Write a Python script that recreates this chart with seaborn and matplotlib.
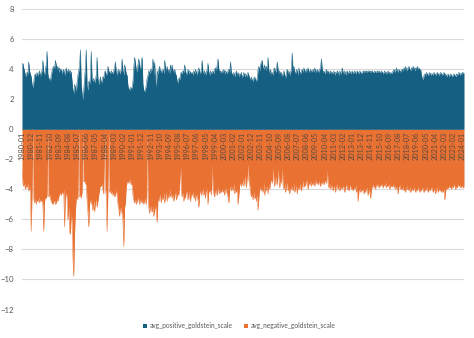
import matplotlib
matplotlib.use("Agg")
import matplotlib.pyplot as plt
from matplotlib.patches import Patch
import numpy as np
import pandas as pd
import seaborn as sns

# Monthly average Goldstein scores, January 1980 to March 2024
pos_1980s = [
    4.3, 4.4, 4.1, 3.9, 3.6, 3.5, 3.8, 3.7, 4.5, 3.9, 3.7, 3.5,
    3.0, 2.8, 3.1, 3.6, 3.7, 3.5, 3.8, 3.6, 3.7, 3.9, 3.5, 3.8,
    3.9, 4.6, 3.8, 3.6, 4.0, 4.3, 5.2, 3.7, 3.3, 3.4, 3.2, 3.6,
    3.9, 4.1, 4.2, 4.0, 4.6, 4.3, 4.0, 4.2, 3.8, 4.1, 3.9, 4.0,
    3.7, 3.9, 4.0, 3.6, 3.8, 4.1, 3.8, 3.9, 4.0, 3.7, 3.9, 3.8,
    3.2, 2.6, 2.4, 3.0, 2.8, 2.5, 3.1, 3.6, 3.9, 4.2, 5.3, 3.0,
    2.4, 2.0, 2.6, 3.4, 4.1, 5.3, 2.9, 2.6, 3.2, 3.0, 3.5, 5.2,
    3.3, 3.2, 3.4, 3.1, 3.3, 3.6, 4.8, 3.4, 3.0, 3.2, 3.5, 3.1,
    3.2, 3.5, 3.4, 3.8, 3.9, 3.6, 3.7, 4.2, 3.9, 3.8, 3.7, 3.9,
    3.8, 3.7, 3.9, 4.1, 4.5, 3.8, 3.6, 3.9, 4.0, 3.7, 3.8, 4.0,
]
pos_1990s = [
    4.7, 3.9, 3.6, 4.3, 4.0, 3.7, 3.6, 2.9, 2.7, 2.6, 2.8, 2.7,
    2.8, 3.2, 4.1, 4.8, 4.4, 4.0, 3.8, 4.3, 4.7, 4.2, 3.9, 4.5,
    4.8, 3.0, 2.6, 2.5, 2.7, 2.9, 3.4, 3.6, 3.9, 3.7, 4.0, 3.8,
    4.1, 4.7, 3.6, 4.5, 3.2, 2.8, 3.9, 3.7, 4.0, 4.2, 3.8, 3.9,
    3.8, 4.0, 3.7, 4.6, 4.1, 3.9, 4.2, 3.8, 4.0, 3.7, 4.3, 3.9,
    4.3, 3.9, 3.8, 4.0, 3.7, 3.6, 3.2, 3.1, 3.4, 3.3, 3.7, 3.8,
    3.7, 3.9, 3.8, 4.3, 3.9, 3.6, 3.8, 4.0, 3.7, 3.9, 3.8, 3.7,
    3.8, 3.6, 3.9, 3.7, 4.0, 3.8, 3.6, 3.9, 4.1, 3.8, 3.7, 4.0,
    4.6, 3.8, 3.7, 3.9, 3.6, 3.8, 4.0, 4.4, 3.8, 3.6, 3.9, 3.7,
    3.8, 3.9, 3.7, 4.0, 4.1, 3.9, 4.3, 4.7, 4.0, 3.8, 3.9, 3.7,
]
pos_2000s = [
    3.9, 3.8, 4.0, 3.7, 3.9, 3.8, 3.7, 3.9, 4.0, 3.8, 4.5, 3.8,
    3.7, 3.6, 3.8, 3.5, 3.7, 3.9, 3.6, 3.8, 3.5, 3.7, 3.6, 3.8,
    3.4, 3.6, 3.8, 3.5, 3.7, 3.6, 3.5, 3.8, 3.6, 3.4, 3.3, 3.5,
    3.3, 3.2, 3.4, 3.5, 3.3, 3.2, 3.4, 4.0, 4.2, 3.9, 4.3, 4.5,
    4.6, 4.1, 4.0, 4.3, 3.9, 4.2, 4.0, 4.8, 3.9, 3.7, 4.0, 3.6,
    3.8, 3.6, 4.0, 4.1, 3.8, 3.9, 4.5, 4.0, 3.7, 3.9, 3.6, 3.8,
    3.5, 3.7, 3.9, 3.6, 3.4, 3.8, 4.0, 3.7, 3.9, 3.6, 3.8, 4.0,
    5.1, 3.9, 4.2, 3.8, 3.7, 4.0, 3.9, 3.6, 4.1, 3.8, 3.7, 3.9,
    4.0, 3.8, 4.1, 3.9, 3.8, 4.0, 3.9, 4.1, 3.8, 3.9, 4.0, 3.8,
    3.9, 4.0, 3.8, 4.1, 3.9, 3.8, 4.0, 3.9, 3.8, 4.0, 4.1, 4.7,
]
pos_2010s = [
    4.0, 3.8, 3.9, 3.7, 3.8, 4.0, 3.8, 3.9, 3.7, 3.8, 3.9, 3.7,
    3.8, 3.7, 3.9, 3.6, 3.8, 3.7, 3.9, 3.8, 3.6, 3.9, 3.7, 3.8,
    4.1, 3.8, 3.7, 3.9, 3.6, 3.8, 3.9, 3.7, 3.8, 3.9, 3.7, 3.8,
    3.9, 3.7, 3.8, 3.9, 3.7, 3.8, 3.9, 3.8, 3.7, 3.9, 3.8, 3.7,
    3.8, 3.9, 3.8, 3.9, 3.8, 3.9, 3.8, 3.9, 3.9, 3.8, 3.9, 3.8,
    3.9, 3.8, 3.8, 3.9, 3.8, 3.8, 3.9, 3.8, 3.9, 3.8, 3.8, 3.9,
    3.8, 3.7, 3.8, 3.9, 3.7, 3.8, 3.7, 3.9, 3.8, 3.7, 3.8, 3.7,
    3.8, 3.9, 4.0, 3.8, 3.9, 4.1, 3.9, 3.8, 4.0, 3.9, 3.8, 4.0,
    4.0, 3.9, 4.1, 4.0, 4.2, 3.9, 4.0, 4.1, 4.2, 4.0, 3.9, 4.1,
    4.0, 4.2, 4.1, 3.9, 4.1, 4.0, 4.2, 4.0, 4.1, 3.9, 4.0, 3.6,
]
pos_2020s = [
    3.4, 3.3, 3.6, 3.7, 3.6, 3.8, 3.7, 3.6, 3.7, 3.8, 3.6, 3.7,
    3.7, 3.6, 3.8, 3.7, 3.6, 3.7, 3.8, 3.7, 3.6, 3.7, 3.8, 3.7,
    3.6, 3.7, 3.8, 3.6, 3.7, 3.5, 3.6, 3.7, 3.5, 3.6, 3.7, 3.6,
    3.5, 3.6, 3.7, 3.6, 3.5, 3.7, 3.6, 3.7, 3.8, 3.6, 3.7, 3.7,
    3.8, 3.7, 3.8,
]

neg_1980s = [
    -2.8, -3.6, -3.8, -3.5, -4.0, -3.7, -3.9, -3.6, -4.1, -3.8, -4.2, -6.8,
    -4.3, 0.0, -4.6, -4.9, -4.5, -5.0, -4.7, -4.8, -4.5, -4.9, -4.6, -4.8,
    -4.7, -5.0, -6.8, -4.8, -4.5, -4.6, -4.4, 0.0, -4.5, -4.3, -4.6, -4.8,
    -4.9, -5.0, -4.8, -4.7, -5.0, -4.9, -4.6, -4.8, -4.5, -4.3, -4.2, -4.4,
    -4.1, -4.3, -4.0, -6.5, -4.4, -4.2, -4.6, -6.0, -5.2, -6.8, -7.0, -5.5,
    -6.2, -8.5, -9.8, -7.0, -5.5, -4.6, -4.4, -4.7, 0.0, -4.5, -4.3, -4.6,
    -4.2, 0.0, -3.5, -3.4, -3.6, -3.7, -4.8, -5.5, -6.5, -5.0, -4.6, -4.9,
    -5.0, -5.4, -4.7, -5.5, -4.9, -4.6, -5.2, -4.8, -4.4, -4.0, -3.7, -3.8,
    -3.6, -4.0, -4.3, 0.0, -3.9, -4.4, -6.8, -4.1, 0.0, -4.2, -4.0, -4.3,
    -4.1, -4.4, -4.2, -4.5, -4.3, -4.0, -4.4, -5.0, -5.3, -5.8, -5.1, -5.4,
]
neg_1990s = [
    -5.6, -6.0, -7.8, -5.2, -4.9, -3.8, -3.5, -3.4, -3.6, -3.3, -3.5, -3.7,
    -3.6, -4.4, -4.7, -4.9, -4.6, -5.0, -4.8, -4.5, -4.7, -5.0, -4.6, -4.8,
    -4.9, -4.7, -5.0, -4.6, -4.8, -5.0, 0.0, -4.5, -5.2, -5.6, -5.0, -5.4,
    -5.5, -5.1, -5.8, -5.4, -5.0, -5.6, -6.2, -4.6, -4.8, -4.3, -4.5, -4.9,
    -4.4, -4.7, -4.2, -4.9, -4.5, -4.1, -4.8, -4.3, -4.6, -4.0, -4.5, -4.2,
    -4.6, -4.3, -4.8, -4.4, -4.1, -4.7, -4.5, -4.2, -4.4, -3.6, -2.3, -4.1,
    -4.5, -4.2, -4.8, -4.4, -4.6, -4.0, -4.3, -4.7, -4.1, -4.5, -4.8, -4.3,
    -4.4, -4.1, -4.6, -4.3, -4.8, -4.2, -4.5, -4.7, -5.2, -4.3, -4.0, -4.4,
    -4.2, -3.9, -4.4, -4.1, -4.6, -3.8, -4.3, -5.0, -4.0, -4.2, -3.9, -4.4,
    -2.3, -4.0, -4.3, -4.5, -3.9, -4.2, -4.4, -3.8, -4.1, -4.3, -4.0, -4.2,
]
neg_2000s = [
    -3.9, -4.2, -4.0, -4.4, -3.8, -4.1, -4.3, -4.5, -4.9, -4.0, -3.7, -4.1,
    -3.8, -4.1, -3.6, -4.3, -3.9, -4.2, -4.0, -5.0, -4.4, -3.7, -3.5, -3.8,
    -3.6, -3.3, -3.8, -3.1, -3.5, -3.9, -3.2, -2.3, -3.4, -3.7, -4.2, -4.5,
    -4.3, -4.7, -4.1, -4.6, -4.4, -4.8, -4.2, -5.4, -4.5, -4.0, -3.8, -4.1,
    -3.9, -4.2, -3.6, -4.4, -3.8, -4.1, -3.7, -4.3, -3.6, -4.0, -3.5, -3.3,
    -3.6, -2.5, -3.4, -3.8, -3.1, -3.5, -3.7, -2.6, -3.3, -3.9, -3.2, -3.6,
    -2.5, -3.7, -4.0, -3.6, -4.2, -3.8, -3.5, -4.1, -3.9, -4.3, -3.7, -4.0,
    -3.8, -4.1, -3.6, -4.2, -3.9, -3.7, -4.3, -3.8, -4.0, -3.6, -3.9, -4.1,
    -3.7, -3.4, -3.9, -3.5, -3.8, -3.3, -3.6, -4.0, -3.5, -3.7, -3.4, -3.8,
    -3.5, -3.7, -3.4, -3.8, -3.3, -3.6, -3.5, -3.7, -3.4, -3.6, -3.8, -3.5,
]
neg_2010s = [
    -3.6, -3.4, -3.7, -3.5, -3.3, -3.6, -2.6, -3.7, -3.9, -3.6, -4.0, -3.7,
    -3.8, -4.1, -3.7, -3.9, -4.2, -3.6, -3.8, -4.0, -3.7, -4.1, -3.9, -3.8,
    -4.0, -3.7, -3.9, -4.2, -3.8, -3.6, -4.0, -3.9, -4.1, -3.7, -3.8, -4.0,
    -3.9, -4.1, -3.8, -4.0, -3.7, -4.2, -4.0, -4.8, -4.1, -3.9, -4.2, -4.0,
    -4.1, -3.9, -4.3, -4.0, -4.2, -3.8, -4.1, -4.4, -3.9, -4.2, -4.6, -4.0,
    -3.8, -3.6, -3.9, -3.7, -4.0, -3.5, -3.8, -3.6, -3.9, -3.7, -3.8, -3.6,
    -3.7, -3.9, -3.6, -3.8, -3.5, -3.9, -3.7, -3.8, -3.6, -4.0, -3.7, -3.8,
    -3.8, -3.6, -3.9, -3.7, -4.0, -3.8, -3.9, -4.3, -3.8, -3.7, -4.0, -3.9,
    -4.0, -3.8, -4.1, -3.9, -4.2, -3.7, -4.0, -3.9, -4.1, -3.8, -4.2, -4.0,
    -3.9, -4.1, -3.8, -4.0, -4.2, -3.9, -4.1, -3.8, -4.0, -4.2, -3.9, -4.1,
]
neg_2020s = [
    -3.8, -4.0, -4.2, -3.9, -4.1, -3.8, -4.0, -4.2, -3.9, -4.1, -4.0, -3.8,
    -4.0, -4.2, -3.9, -4.1, -4.3, -3.8, -4.0, -4.2, -3.9, -4.1, -4.0, -4.2,
    -4.0, -4.2, -3.9, -4.7, -4.1, -3.8, -4.0, -3.9, -3.7, -3.9, -3.8, -4.0,
    -3.7, -3.9, -3.6, -3.8, -4.0, -3.7, -3.9, -3.6, -3.8, -3.7, -3.9, -3.8,
    -3.7, -3.9, -3.8,
]

series_names = ["avg_positive_goldstein_scale", "avg_negative_goldstein_scale"]
series_colors = ["#156082", "#E97132"]

positive = pos_1980s + pos_1990s + pos_2000s + pos_2010s + pos_2020s
negative = neg_1980s + neg_1990s + neg_2000s + neg_2010s + neg_2020s
months = pd.period_range("1980-01", periods=len(positive), freq="M").strftime("%Y-%m").tolist()

df = pd.DataFrame({
    "idx": np.arange(len(months)),
    "month": months,
    series_names[0]: positive,
    series_names[1]: negative,
})
long_df = df.melt(id_vars=["idx", "month"], var_name="series", value_name="value")

sns.set_theme(style="white")
plt.rcParams["font.family"] = ["Lato", "DejaVu Sans"]

fig = plt.figure(figsize=(4.74, 3.38), dpi=100)
ax = fig.add_axes([0.0464, 0.0843, 0.9325, 0.8882])

for name, color in zip(series_names, series_colors):
    ax.fill_between(df["idx"], 0, df[name], color=color, linewidth=0, zorder=2)

sns.lineplot(data=long_df, x="idx", y="value", hue="series",
             palette=dict(zip(series_names, series_colors)),
             linewidth=0.35, legend=False, ax=ax, zorder=3)

# category axis sits on the zero line, as in a spreadsheet area chart
ax.spines["bottom"].set_position(("data", 0))
for s in ax.spines.values():
    s.set_visible(False)

ax.set_ylim(-12, 8)
ax.set_yticks(np.arange(-12, 9, 2))
ax.yaxis.grid(True, color="#d9d9d9", linewidth=0.8)
ax.xaxis.grid(False)
ax.set_axisbelow(True)
# date labels are written over the filled areas
ax.xaxis.set_zorder(5)

ax.set_xlim(0, len(months) - 1)
tick_pos = list(range(0, len(months), 11))
ax.set_xticks(tick_pos)
ax.set_xticklabels([months[i] for i in tick_pos])
ax.tick_params(axis="x", length=0, pad=2, labelrotation=90,
               labelsize=5.2, labelcolor="#5a4a40")
ax.tick_params(axis="y", length=0, pad=6, labelsize=5.6, labelcolor="#595959")
for lbl in ax.get_xticklabels():
    lbl.set_verticalalignment("top")
    lbl.set_horizontalalignment("center")
ax.set_xlabel("")
ax.set_ylabel("")

handles = [Patch(facecolor=c, edgecolor="none", label=n)
           for n, c in zip(series_names, series_colors)]
fig.legend(handles=handles, loc="center", bbox_to_anchor=(0.505, 0.036),
           ncol=2, frameon=False, fontsize=4.8, labelcolor="#595959",
           handlelength=0.7, handleheight=0.7, handletextpad=0.4,
           columnspacing=1.6)

fig.savefig("out.png", dpi=100)
